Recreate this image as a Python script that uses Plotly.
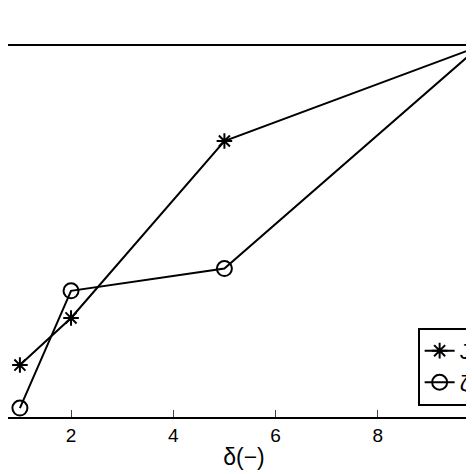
import plotly.graph_objects as go

x = [1, 2, 5, 10]
j_vals = [0.14, 0.267, 0.744, 1.0]
zeta_vals = [0.024, 0.34, 0.40, 1.0]
xticks = [2, 4, 6, 8, 10]

fig = go.Figure()
fig.add_trace(go.Scatter(x=x, y=j_vals, name="J", mode="lines+markers",
    line=dict(color="black", width=2),
    marker=dict(symbol="asterisk-open", size=13, color="black", line=dict(width=2, color="black"))))
fig.add_trace(go.Scatter(x=x, y=zeta_vals, name="ζ", mode="lines+markers",
    line=dict(color="black", width=2),
    marker=dict(symbol="circle-open", size=15, color="black", line=dict(width=2, color="black"))))

fig.update_layout(
    width=474, height=474, margin=dict(l=0, r=0, t=38, b=65),
    paper_bgcolor="white", plot_bgcolor="white", showlegend=True,
    font=dict(family="Liberation Sans", size=19, color="black"),
    xaxis=dict(range=[0.767, 10.0], tickvals=xticks, ticks="inside", ticklen=7,
               showline=True, linecolor="black", linewidth=2, mirror=True,
               showgrid=False, zeroline=False,
               title=dict(text="δ(−)", standoff=4)),
    yaxis=dict(range=[0, 1], showticklabels=False, showline=True, linecolor="black",
               linewidth=2, mirror=True, showgrid=False, zeroline=False, ticks=""),
    legend=dict(x=0.995, y=0.03, xanchor="right", yanchor="bottom",
                bordercolor="black", borderwidth=2, bgcolor="white",
                font=dict(size=22)),
)
fig.write_html("out.html")
